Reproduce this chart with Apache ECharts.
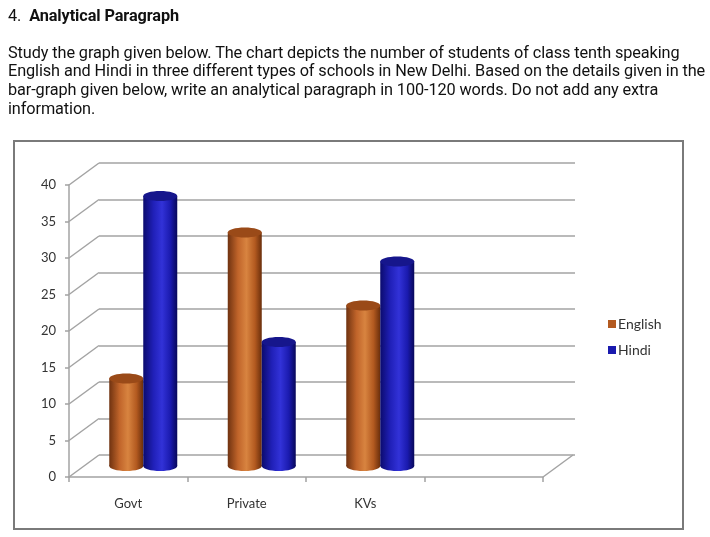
<!DOCTYPE html>
<html><head><meta charset="utf-8">
<script src="https://cdn.jsdelivr.net/npm/echarts@6/dist/echarts.min.js"></script>
<style>
html,body{margin:0;padding:0;background:#fff;}
#wrap{position:relative;width:710px;height:537px;overflow:hidden;}
#chart{position:absolute;left:0;top:0;width:710px;height:537px;}
#txt{position:absolute;left:8px;top:7px;font-family:Roboto,Arial,sans-serif;color:#111;font-size:16.3px;line-height:18.7px;pointer-events:none;letter-spacing:-0.1px;}
#txt .h{margin-bottom:18px;}
#txt b{font-weight:700;}
</style></head>
<body><div id="wrap"><div id="chart"></div>
<div id="txt"><div class="h">4.&nbsp; <b>Analytical Paragraph</b></div>
<div>Study the graph given below. The chart depicts the number of students of class tenth speaking<br>English and Hindi in three different types of schools in New Delhi. Based on the details given in the<br>bar-graph given below, write an analytical paragraph in 100-120 words. Do not add any extra<br>information.</div></div>
</div>
<script>
const categories = ['Govt', 'Private', 'KVs', ''];
const seriesNames = ['English', 'Hindi'];
const english = [12, 32, 22];
const hindi = [37, 17, 28];
const yTicks = [0, 5, 10, 15, 20, 25, 30, 35, 40];

const DX = 30, DY = 22, BW = 34, RY = 5;
const gridW = 474, gridH = 292, gl = 69, gt = 185;
const fontF = 'Lato, "Open Sans", sans-serif';
const lineCol = '#a3a3a3';

const grads = {
  English: { body: [[0,'#6f3210'],[0.3,'#c0642a'],[0.55,'#d88440'],[0.8,'#b35a20'],[1,'#6a2e0b']], cap: '#9a4a18' },
  Hindi: { body: [[0,'#0b0b6e'],[0.3,'#2020b8'],[0.55,'#3232d8'],[0.8,'#1a1aae'],[1,'#08085a']], cap: '#16168c' }
};

function cylinder(name, idx) {
  return function (params, api) {
    const top = api.coord([api.value(0), api.value(1)]);
    const base = api.coord([api.value(0), 0]);
    const cx = top[0];
    const x0 = idx === 0 ? cx - BW : cx;
    const g = grads[name];
    const fill = new echarts.graphic.LinearGradient(0, 0, 1, 0, g.body.map(s => ({offset: s[0], color: s[1]})));
    return {
      type: 'group',
      children: [
        { type: 'ellipse', shape: { cx: x0 + BW / 2, cy: base[1], rx: BW / 2, ry: RY }, style: { fill: fill } },
        { type: 'rect', shape: { x: x0, y: top[1], width: BW, height: base[1] - top[1] }, style: { fill: fill } },
        { type: 'ellipse', shape: { cx: x0 + BW / 2, cy: top[1], rx: BW / 2, ry: RY }, style: { fill: g.cap } }
      ]
    };
  };
}

const chart = echarts.init(document.getElementById('chart'), null, { renderer: 'canvas' });
chart.setOption({
  animation: false,
  graphic: [{ type: 'rect', shape: { x: 14, y: 141, width: 669, height: 388 }, style: { fill: 'none', stroke: '#7a7a7a', lineWidth: 2 }, z: 0 }],
  legend: {
    orient: 'vertical', left: 603, top: 312, itemWidth: 8, itemHeight: 8, itemGap: 12,
    icon: 'rect',
    textStyle: { fontFamily: fontF, fontSize: 14, color: '#333', padding: [0, 0, 0, -3] },
    data: [{ name: 'English', itemStyle: { color: '#b35a20' } }, { name: 'Hindi', itemStyle: { color: '#1a1aae' } }]
  },
  grid: [
    { left: gl, top: gt, width: gridW, height: gridH },
    { left: gl + DX, top: gt - DY, width: gridW + 2, height: gridH },
    { left: gl + DX / 2, top: gt - DY / 2, width: gridW, height: gridH }
  ],
  xAxis: [
    { type: 'category', gridIndex: 0, data: categories, boundaryGap: true,
      axisLine: { lineStyle: { color: lineCol, width: 1.5 } },
      axisTick: { show: true, length: 5, lineStyle: { color: lineCol, width: 1.5 } },
      axisLabel: { fontFamily: fontF, fontSize: 13, color: '#333', margin: 20 } },
    { type: 'category', gridIndex: 1, data: categories, show: false },
    { type: 'category', gridIndex: 2, data: categories, show: false }
  ],
  yAxis: [
    { type: 'value', gridIndex: 0, min: 0, max: 40, interval: 5,
      axisLine: { show: true, lineStyle: { color: lineCol, width: 1.5 } },
      axisTick: { show: true, length: 4, lineStyle: { color: lineCol, width: 1.5 } },
      splitLine: { show: false },
      axisLabel: { fontFamily: fontF, fontSize: 13, color: '#333', margin: 13 } },
    { type: 'value', gridIndex: 1, min: 0, max: 40, interval: 5,
      axisLine: { show: false }, axisTick: { show: false }, axisLabel: { show: false },
      splitLine: { show: true, lineStyle: { color: lineCol, width: 1.5 } } },
    { type: 'value', gridIndex: 2, min: 0, max: 40, interval: 5, show: false, splitLine: { show: false } }
  ],
  series: [
    { type: 'custom', name: 'diag', xAxisIndex: 0, yAxisIndex: 0, silent: true, legendHoverLink: false,
      data: yTicks.map(v => [0, v]),
      renderItem: function (params, api) {
        const p = api.coord([0, api.value(1)]);
        const x = params.coordSys.x;
        return { type: 'line', shape: { x1: x, y1: p[1], x2: x + DX, y2: p[1] - DY }, style: { stroke: lineCol, lineWidth: 1.5 } };
      }, z: 1 },
    { type: 'custom', name: 'floorRight', xAxisIndex: 0, yAxisIndex: 0, silent: true,
      data: [[0, 0]],
      renderItem: function (params, api) {
        const p = api.coord([0, 0]);
        const x = params.coordSys.x + params.coordSys.width;
        return { type: 'line', shape: { x1: x, y1: p[1], x2: x + DX, y2: p[1] - DY }, style: { stroke: lineCol, lineWidth: 1.5 } };
      }, z: 1 },
    { type: 'custom', name: 'English', xAxisIndex: 2, yAxisIndex: 2, itemStyle: { color: '#b35a20' },
      data: english.map((v, i) => [i, v]), renderItem: cylinder('English', 0), z: 5 },
    { type: 'custom', name: 'Hindi', xAxisIndex: 2, yAxisIndex: 2, itemStyle: { color: '#1a1aae' },
      data: hindi.map((v, i) => [i, v]), renderItem: cylinder('Hindi', 1), z: 5 }
  ]
});
</script></body></html>
